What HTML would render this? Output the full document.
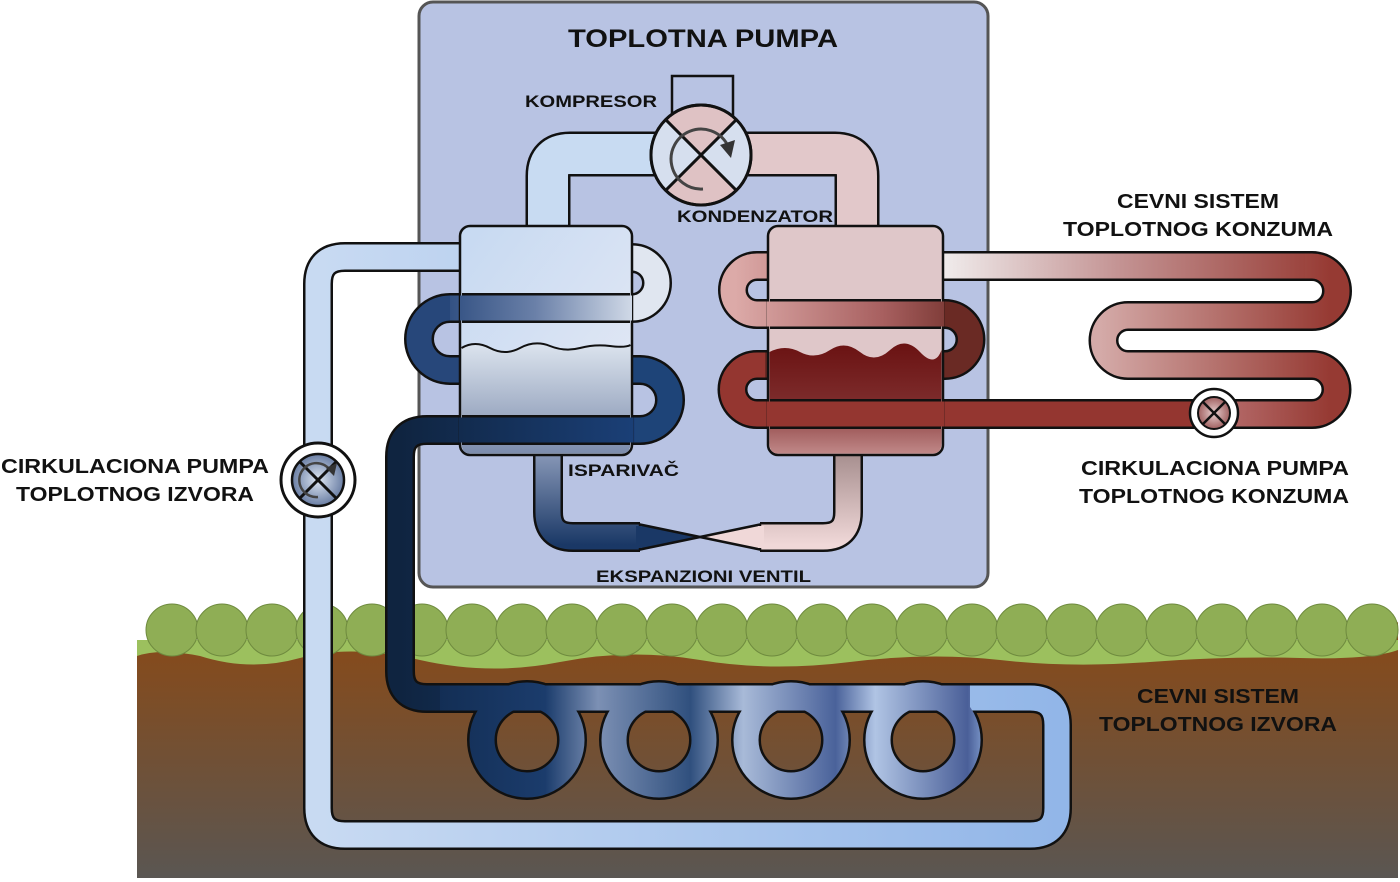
<!DOCTYPE html>
<html><head><meta charset="utf-8"><style>
html,body{margin:0;padding:0;background:#fff;}
svg{display:block;}
text{font-family:"Liberation Sans",Arial,sans-serif;font-weight:bold;fill:#111;}
</style></head><body>
<svg width="1400" height="882" viewBox="0 0 1400 882" xmlns="http://www.w3.org/2000/svg">
<defs>
<linearGradient id="soil" x1="0" y1="0" x2="0" y2="1"><stop offset="0" stop-color="#8a4916"/><stop offset="0.35" stop-color="#7a4e2a"/><stop offset="1" stop-color="#5a5652"/></linearGradient>
<linearGradient id="gLight" gradientUnits="userSpaceOnUse" x1="318" y1="0" x2="1060" y2="0"><stop offset="0" stop-color="#c8daf2"/><stop offset="1" stop-color="#92b6e8"/></linearGradient>
<linearGradient id="gGround" gradientUnits="userSpaceOnUse" x1="400" y1="0" x2="1060" y2="0">
<stop offset="0" stop-color="#10294c"/><stop offset="0.22" stop-color="#1b3c6c"/><stop offset="0.3" stop-color="#7c90b4"/><stop offset="0.44" stop-color="#30507e"/><stop offset="0.52" stop-color="#a8bad8"/><stop offset="0.66" stop-color="#4a629a"/><stop offset="0.72" stop-color="#b0c4e4"/><stop offset="0.86" stop-color="#4a5f98"/><stop offset="0.9" stop-color="#9cbcea"/><stop offset="1" stop-color="#9cbcea"/></linearGradient>
<linearGradient id="gDark" gradientUnits="userSpaceOnUse" x1="400" y1="0" x2="640" y2="0"><stop offset="0" stop-color="#0f2440"/><stop offset="1" stop-color="#1b4078"/></linearGradient>
<linearGradient id="gRow2" gradientUnits="userSpaceOnUse" x1="430" y1="0" x2="640" y2="0"><stop offset="0" stop-color="#26467a"/><stop offset="0.5" stop-color="#6a80a8"/><stop offset="1" stop-color="#d8e0ec"/></linearGradient>
<linearGradient id="gCon1" gradientUnits="userSpaceOnUse" x1="943" y1="0" x2="1330" y2="0"><stop offset="0" stop-color="#f0ecec"/><stop offset="0.45" stop-color="#c49494"/><stop offset="1" stop-color="#963a33"/></linearGradient>
<linearGradient id="gCon2" gradientUnits="userSpaceOnUse" x1="1100" y1="0" x2="1330" y2="0"><stop offset="0" stop-color="#d4aaa8"/><stop offset="1" stop-color="#963a33"/></linearGradient>
<linearGradient id="gCon3" gradientUnits="userSpaceOnUse" x1="1214" y1="0" x2="1330" y2="0"><stop offset="0" stop-color="#b87070"/><stop offset="1" stop-color="#963a33"/></linearGradient>
<linearGradient id="gCoil1" gradientUnits="userSpaceOnUse" x1="735" y1="0" x2="980" y2="0"><stop offset="0" stop-color="#dcaaa8"/><stop offset="0.6" stop-color="#a86060"/><stop offset="1" stop-color="#6a2a24"/></linearGradient>
<linearGradient id="gEvTop" x1="0" y1="0" x2="1" y2="1"><stop offset="0" stop-color="#c6d9f2"/><stop offset="1" stop-color="#e6eaf4"/></linearGradient>
<linearGradient id="gEvLiq" x1="0" y1="0" x2="0" y2="1"><stop offset="0" stop-color="#dce4ee"/><stop offset="1" stop-color="#7c8cac"/></linearGradient>
<linearGradient id="gCoLiq" x1="0" y1="0" x2="0" y2="1"><stop offset="0" stop-color="#6a1212"/><stop offset="0.5" stop-color="#7c2a2a"/><stop offset="1" stop-color="#c08888"/></linearGradient>
<linearGradient id="gBL" gradientUnits="userSpaceOnUse" x1="0" y1="455" x2="0" y2="545"><stop offset="0" stop-color="#8696b6"/><stop offset="1" stop-color="#1a3866"/></linearGradient>
<linearGradient id="gBR" gradientUnits="userSpaceOnUse" x1="0" y1="455" x2="0" y2="545"><stop offset="0" stop-color="#a89090"/><stop offset="1" stop-color="#f0d8d8"/></linearGradient>
<radialGradient id="gPumpL"><stop offset="0" stop-color="#dde6f2"/><stop offset="1" stop-color="#6a7ea4"/></radialGradient>
<radialGradient id="gPumpR"><stop offset="0" stop-color="#e8d0d0"/><stop offset="1" stop-color="#a06060"/></radialGradient>
</defs>

<!-- heat pump box -->
<rect x="419" y="2" width="569" height="585" rx="14" fill="#b8c3e3" stroke="#555" stroke-width="3"/>

<!-- ground -->
<path d="M137 650 Q160 640 200 650 T300 652 T420 654 T560 656 T700 654 T850 656 T1000 654 T1150 656 T1300 652 Q1370 650 1398 622 V878 H137 Z" fill="url(#soil)"/>
<path d="M137 640 H1398 V650 Q1370 660 1300 658 T1150 662 T1000 660 T850 662 T700 660 T560 662 T420 660 T300 658 T200 656 Q160 648 137 656 Z" fill="#9cc05e"/>
<g fill="#8fae55" stroke="#6e8a3e" stroke-width="1">
<circle cx="172" cy="630" r="26"/><circle cx="222" cy="630" r="26"/><circle cx="272" cy="630" r="26"/><circle cx="322" cy="630" r="26"/><circle cx="372" cy="630" r="26"/><circle cx="422" cy="630" r="26"/><circle cx="472" cy="630" r="26"/><circle cx="522" cy="630" r="26"/><circle cx="572" cy="630" r="26"/><circle cx="622" cy="630" r="26"/><circle cx="672" cy="630" r="26"/><circle cx="722" cy="630" r="26"/><circle cx="772" cy="630" r="26"/><circle cx="822" cy="630" r="26"/><circle cx="872" cy="630" r="26"/><circle cx="922" cy="630" r="26"/><circle cx="972" cy="630" r="26"/><circle cx="1022" cy="630" r="26"/><circle cx="1072" cy="630" r="26"/><circle cx="1122" cy="630" r="26"/><circle cx="1172" cy="630" r="26"/><circle cx="1222" cy="630" r="26"/><circle cx="1272" cy="630" r="26"/><circle cx="1322" cy="630" r="26"/><circle cx="1372" cy="630" r="26"/>
</g>

<!-- ground loop system outlines -->
<g fill="none" stroke="#111" stroke-width="30" stroke-linejoin="round">
<path d="M470 257 H345 Q318 257 318 284 V808 Q318 835 345 835 H1030 Q1057 835 1057 808 V725 Q1057 698 1030 698 H427 Q400 698 400 671 V457 Q400 430 427 430 H640 A30 30 0 0 0 640 370 H450 A31 31 0 0 1 450 308 H632 A25 25 0 0 0 632 258 H470"/>
<circle cx="527" cy="740" r="45"/><circle cx="659" cy="740" r="45"/><circle cx="791" cy="740" r="45"/><circle cx="923" cy="740" r="45"/>
</g>
<g fill="none" stroke-width="25" stroke-linejoin="round">
<path d="M470 257 H345 Q318 257 318 284 V808 Q318 835 345 835 H1030 Q1057 835 1057 808 V725 Q1057 698 1030 698 H960" stroke="url(#gLight)"/>
<circle cx="527" cy="740" r="45" stroke="url(#gGround)"/><circle cx="659" cy="740" r="45" stroke="url(#gGround)"/><circle cx="791" cy="740" r="45" stroke="url(#gGround)"/><circle cx="923" cy="740" r="45" stroke="url(#gGround)"/>
<path d="M970 698 H430" stroke="url(#gGround)"/>
<path d="M440 698 H427 Q400 698 400 671 V457 Q400 430 427 430 H640" stroke="url(#gDark)"/>
<path d="M635 430 H640 A30 30 0 0 0 640 370 H450" stroke="#1e4478"/>
<path d="M460 370 H450 A31 31 0 0 1 450 308 H460" stroke="#27477a"/>
<path d="M450 308 H632" stroke="url(#gRow2)"/>
<path d="M626 308 H632 A25 25 0 0 0 632 258 H470" stroke="#e0e6f0"/>
</g>

<!-- consumer loop outlines -->
<g fill="none" stroke="#111" stroke-width="30" stroke-linejoin="round">
<path d="M780 266 H757 A24 24 0 0 0 757 314 H945 A25.5 25.5 0 0 1 945 365 H757 A24.5 24.5 0 0 0 757 414 H1312 A24.5 24.5 0 0 0 1312 365 H1128 A24.5 24.5 0 0 1 1128 316 H1312 A25 25 0 0 0 1312 266 H780"/>
</g>
<g fill="none" stroke-width="25" stroke-linejoin="round">
<path d="M760 266 H1312" stroke="url(#gCon1)"/>
<path d="M1305 266 H1312 A25 25 0 0 1 1312 316 H1128" stroke="url(#gCon2)"/>
<path d="M1135 316 H1128 A24.5 24.5 0 0 0 1128 365 H1312" stroke="url(#gCon2)"/>
<path d="M1305 365 H1312 A24.5 24.5 0 0 1 1312 414 H1214" stroke="url(#gCon3)"/>
<path d="M1220 414 H757" stroke="#943630"/>
<path d="M780 266 H757 A24 24 0 0 0 757 314 H945" stroke="url(#gCoil1)"/>
<path d="M940 314 H945 A25.5 25.5 0 0 1 945 365 H757" stroke="#6a2a24"/>
<path d="M765 365 H757 A24.5 24.5 0 0 0 757 414 H770" stroke="#943630"/>
</g>

<!-- top compressor pipes -->
<g fill="none" stroke-linejoin="round">
<path d="M548 240 V176 Q548 154 570 154 H665" stroke="#111" stroke-width="45"/>
<path d="M740 154 H835 Q857 154 857 176 V240" stroke="#111" stroke-width="45"/>
<path d="M548 240 V176 Q548 154 570 154 H665" stroke="#c8dbf2" stroke-width="40"/>
<path d="M740 154 H835 Q857 154 857 176 V240" stroke="#e2c8ca" stroke-width="40"/>
</g>

<!-- bottom expansion pipes -->
<g fill="none" stroke-linejoin="round">
<path d="M548 450 V512 Q548 537 573 537 H640" stroke="#111" stroke-width="30"/>
<path d="M848 450 V512 Q848 537 823 537 H760" stroke="#111" stroke-width="30"/>
<path d="M548 450 V512 Q548 537 573 537 H642" stroke="url(#gBL)" stroke-width="25"/>
<path d="M848 450 V512 Q848 537 823 537 H758" stroke="url(#gBR)" stroke-width="25"/>
</g>
<polygon points="640,524.5 700,537 640,549.5" fill="#1a3866" stroke="#111" stroke-width="2.5" stroke-linejoin="round"/>
<polygon points="760,524.5 700,537 760,549.5" fill="#f0d8d8" stroke="#111" stroke-width="2.5" stroke-linejoin="round"/>
<rect x="636" y="526" width="6" height="22" fill="#1a3866"/>
<rect x="758" y="526" width="6" height="22" fill="#f0d8d8"/>

<!-- evaporator tank -->
<rect x="460" y="226" width="172" height="229" rx="10" fill="url(#gEvTop)" stroke="#111" stroke-width="2.5"/>
<path d="M461.5 348 Q475 340 490 348 T520 348 T550 346 T580 348 T610 346 T630.5 345 V443 Q630.5 453.5 622 453.5 H470 Q461.5 453.5 461.5 443 Z" fill="url(#gEvLiq)"/>
<path d="M461.5 348 Q475 340 490 348 T520 348 T550 346 T580 348 T610 346 T630.5 345" fill="none" stroke="#111" stroke-width="2"/>
<!-- condenser tank -->
<rect x="768" y="226" width="175" height="229" rx="10" fill="#dfc7c9" stroke="#111" stroke-width="2.5"/>
<path d="M769.5 352 Q785 344 800 352 T830 350 T860 352 T890 350 T920 352 T941.5 350 V443 Q941.5 453.5 932 453.5 H778 Q769.5 453.5 769.5 443 Z" fill="url(#gCoLiq)"/>

<!-- visible rows over tanks -->
<g fill="none">
<path d="M462 308 H630" stroke="#111" stroke-width="30"/>
<path d="M460 308 H632" stroke="url(#gRow2)" stroke-width="25"/>
<path d="M462 430 H630" stroke="#111" stroke-width="30"/>
<path d="M459 430 H633" stroke="url(#gDark)" stroke-width="25"/>
<path d="M770 314 H941" stroke="#111" stroke-width="30"/>
<path d="M767 314 H944" stroke="url(#gCoil1)" stroke-width="25"/>
<path d="M770 414 H941" stroke="#111" stroke-width="30"/>
<path d="M767 414 H944" stroke="#943630" stroke-width="25"/>
</g>

<!-- compressor -->
<rect x="672" y="76" width="61" height="50" fill="#b8c3e3" stroke="#111" stroke-width="2.5"/>
<circle cx="701" cy="155" r="50" fill="#dfc2c4" stroke="#111" stroke-width="3"/>
<path d="M701 155 L665.6 119.6 A50 50 0 0 0 665.6 190.4 Z" fill="#d6dfee"/>
<path d="M701 155 L736.4 119.6 A50 50 0 0 1 736.4 190.4 Z" fill="#d6dfee"/>
<circle cx="701" cy="155" r="50" fill="none" stroke="#111" stroke-width="3"/>
<line x1="665.6" y1="119.6" x2="736.4" y2="190.4" stroke="#111" stroke-width="3"/>
<line x1="736.4" y1="119.6" x2="665.6" y2="190.4" stroke="#111" stroke-width="3"/>
<path d="M703 189 A30 30 0 1 1 727 144" fill="none" stroke="#444" stroke-width="3"/>
<polygon points="720,145 735,140 731,158" fill="#333"/>

<!-- pumps -->
<circle cx="318" cy="480" r="37" fill="#fff" stroke="#111" stroke-width="3"/>
<circle cx="318" cy="480" r="26" fill="url(#gPumpL)" stroke="#111" stroke-width="2.5"/>
<line x1="300" y1="462" x2="336" y2="498" stroke="#111" stroke-width="3"/>
<line x1="336" y1="462" x2="300" y2="498" stroke="#111" stroke-width="3"/>
<path d="M318 497 A17 17 0 1 1 330 470" fill="none" stroke="#444" stroke-width="2.5"/>
<polygon points="326,468 337,463 334,476" fill="#333"/>

<circle cx="1214" cy="413" r="24" fill="#fff" stroke="#111" stroke-width="2.5"/>
<circle cx="1214" cy="413" r="16" fill="url(#gPumpR)" stroke="#111" stroke-width="2"/>
<line x1="1203" y1="402" x2="1225" y2="424" stroke="#111" stroke-width="2.5"/>
<line x1="1225" y1="402" x2="1203" y2="424" stroke="#111" stroke-width="2.5"/>

<!-- labels -->
<text x="703" y="47" font-size="25" text-anchor="middle" textLength="270" lengthAdjust="spacingAndGlyphs">TOPLOTNA PUMPA</text>
<text x="525" y="107" font-size="17" textLength="132" lengthAdjust="spacingAndGlyphs">KOMPRESOR</text>
<text x="677" y="222" font-size="17" textLength="156" lengthAdjust="spacingAndGlyphs">KONDENZATOR</text>
<text x="568" y="476" font-size="17" textLength="111" lengthAdjust="spacingAndGlyphs">ISPARIVAČ</text>
<text x="596" y="582" font-size="17" textLength="215" lengthAdjust="spacingAndGlyphs">EKSPANZIONI VENTIL</text>
<text x="1198" y="208" font-size="20" text-anchor="middle" textLength="162" lengthAdjust="spacingAndGlyphs">CEVNI SISTEM</text>
<text x="1198" y="236" font-size="20" text-anchor="middle" textLength="270" lengthAdjust="spacingAndGlyphs">TOPLOTNOG KONZUMA</text>
<text x="1349" y="475" font-size="20" text-anchor="end" textLength="268" lengthAdjust="spacingAndGlyphs">CIRKULACIONA PUMPA</text>
<text x="1349" y="503" font-size="20" text-anchor="end" textLength="270" lengthAdjust="spacingAndGlyphs">TOPLOTNOG KONZUMA</text>
<text x="135" y="473" font-size="20" text-anchor="middle" textLength="268" lengthAdjust="spacingAndGlyphs">CIRKULACIONA PUMPA</text>
<text x="135" y="501" font-size="20" text-anchor="middle" textLength="238" lengthAdjust="spacingAndGlyphs">TOPLOTNOG IZVORA</text>
<text x="1218" y="703" font-size="20" text-anchor="middle" textLength="162" lengthAdjust="spacingAndGlyphs">CEVNI SISTEM</text>
<text x="1218" y="731" font-size="20" text-anchor="middle" textLength="238" lengthAdjust="spacingAndGlyphs">TOPLOTNOG IZVORA</text>
</svg>
</body></html>
